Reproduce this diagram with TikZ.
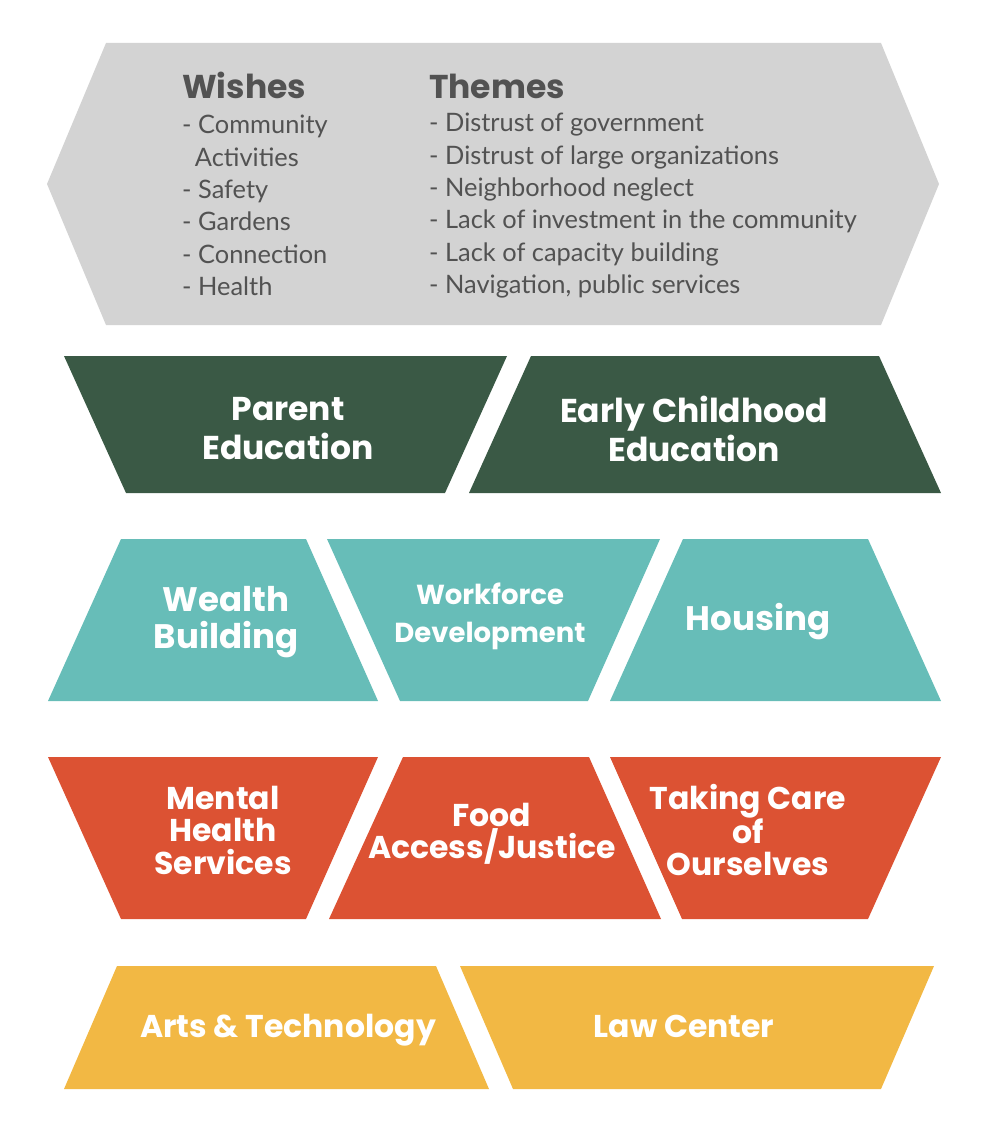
\documentclass[tikz,border=0pt]{standalone}
\usepackage{fontspec}
\setmainfont{Lato}
\newfontfamily\heavyfont{Poppins}
\definecolor{boxgray}{HTML}{D3D3D3}
\definecolor{textgray}{HTML}{525252}
\definecolor{darkgreen}{HTML}{3A5945}
\definecolor{teal}{HTML}{67BDB8}
\definecolor{rust}{HTML}{DC5233}
\definecolor{mustard}{HTML}{F2B844}

\begin{document}
\begin{tikzpicture}[x=1pt,y=-1pt,
	head/.style={anchor=base west,inner sep=0pt,text=textgray,font=\heavyfont\bfseries\fontsize{33}{40}\selectfont},
	item/.style={anchor=base west,inner sep=0pt,text=textgray,font=\fontsize{25.4}{32}\selectfont},
	tag/.style={text=white,align=center,font=\heavyfont\bfseries\fontsize{31.5}{32.5}\selectfont}]
	\useasboundingbox (0,0) rectangle (1000,1131);
	
	\fill[boxgray] (47,184) -- (106,43) -- (881,43) -- (939,184) -- (881,325) -- (106,325) -- cycle;
	\node[head] (wishes) at (182,99) {Wishes};
	\node[head] (themes) at (429,99) {Themes};
	\foreach \txt [count=\i] in {- Community,\hspace{0.5em}Activities,- Safety,- Gardens,- Connection,- Health}
		\node[item] (wish\i) at (182,{134+32.3*(\i-1)}) {\txt};
	\foreach \txt [count=\i] in {- Distrust of government,- Distrust of large organizations,- Neighborhood neglect,- Lack of investment in the community,- Lack of capacity building,{- Navigation, public services}}
		\node[item] (theme\i) at (429,{132+32.3*(\i-1)}) {\txt};
	
	\fill[darkgreen] (64,356) -- (507,356) -- (445,493) -- (126,493) -- cycle;
	\fill[darkgreen] (531,356) -- (879,356) -- (941,493) -- (469,493) -- cycle;
	\node[tag,font=\heavyfont\bfseries\fontsize{33}{39}\selectfont] (parent) at (288,429) {Parent\\Education};
	\node[tag,font=\heavyfont\bfseries\fontsize{33}{39}\selectfont] (early) at (694,429) {Early Childhood\\Education};
	
	\fill[teal] (121,539) -- (306,539) -- (378,701) -- (48,701) -- cycle;
	\fill[teal] (327,539) -- (660,539) -- (588,701) -- (400,701) -- cycle;
	\fill[teal] (683,539) -- (868,539) -- (941,701) -- (610,701) -- cycle;
	\node[tag,font=\heavyfont\bfseries\fontsize{34}{37}\selectfont] (wealth) at (226,622) {Wealth\\Building};
	\node[tag,font=\heavyfont\bfseries\fontsize{27.5}{38}\selectfont] (workforce) at (490,616) {Workforce\\Development};
	\node[tag,font=\heavyfont\bfseries\fontsize{34}{37}\selectfont] (housing) at (758,622) {Housing};
	
	\fill[rust] (48,757) -- (378,757) -- (306,919) -- (121,919) -- cycle;
	\fill[rust] (403,757) -- (589,757) -- (661,919) -- (329,919) -- cycle;
	\fill[rust] (610,757) -- (941,757) -- (868,919) -- (682,919) -- cycle;
	\node[tag] (mental) at (223,830) {Mental\\Health\\Services};
	\node[tag] (food) at (492,834) {Food\\Access/Justice};
	\node[tag] (care) at (748,830) {Taking Care\\of\\Ourselves};
	
	\fill[mustard] (117,966) -- (436,966) -- (489,1089) -- (64,1089) -- cycle;
	\fill[mustard] (460,966) -- (934,966) -- (881,1089) -- (513,1089) -- cycle;
	\node[tag] (arts) at (288,1030) {Arts \& Technology};
	\node[tag] (law) at (684,1026) {Law Center};
\end{tikzpicture}
\end{document}
